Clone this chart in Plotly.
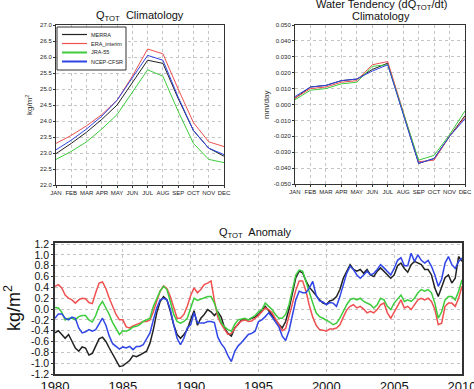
import plotly.graph_objects as go

# ---------------- data ----------------
months = ["JAN", "FEB", "MAR", "APR", "MAY", "JUN", "JUL", "AUG", "SEP", "OCT", "NOV", "DEC"]
series_names = ["MERRA", "ERA_interim", "JRA-55", "NCEP-CFSR"]
series_colors = ["#222222", "#f05050", "#3ccc3c", "#2f45e6"]

clim_merra = [22.98, 23.30, 23.65, 24.05, 24.50, 25.20, 25.90, 25.80, 24.70, 23.70, 23.15, 22.90]
clim_era = [23.30, 23.55, 23.85, 24.20, 24.65, 25.40, 26.25, 26.10, 25.00, 23.95, 23.35, 23.20]
clim_jra = [22.80, 23.05, 23.35, 23.75, 24.20, 24.90, 25.60, 25.40, 24.30, 23.30, 22.80, 22.70]
clim_ncep = [23.10, 23.40, 23.75, 24.15, 24.65, 25.35, 26.05, 25.90, 24.75, 23.70, 23.15, 22.95]

tend_merra = [0.004, 0.011, 0.012, 0.015, 0.016, 0.022, 0.026, -0.005, -0.037, -0.034, -0.020, -0.007]
tend_era = [0.004, 0.010, 0.011, 0.014, 0.015, 0.025, 0.027, -0.005, -0.036, -0.035, -0.020, -0.008]
tend_jra = [0.003, 0.009, 0.010, 0.013, 0.014, 0.024, 0.025, -0.005, -0.035, -0.032, -0.019, -0.004]
tend_ncep = [0.005, 0.011, 0.012, 0.015, 0.016, 0.021, 0.025, -0.006, -0.037, -0.034, -0.020, -0.009]

anom_years = [1980 + 0.25 * i for i in range(121)]
anom_merra = [
    -0.44, -0.40, -0.47, -0.54, -0.47, -0.60, -0.72, -0.78, -0.70, -0.72, -0.85, -0.82,
    -0.68, -0.55, -0.52, -0.60, -0.72, -0.84, -0.96, -1.06, -1.05, -1.00, -0.95, -0.86,
    -0.88, -0.85, -0.81, -0.78, -0.63, -0.38, -0.07, 0.14, 0.23, 0.17, -0.04, -0.29,
    -0.47, -0.54, -0.47, -0.38, -0.20, -0.03, -0.30, -0.17, -0.10, -0.01, -0.05, -0.12,
    -0.05, -0.15, -0.35, -0.45, -0.50, -0.35, -0.28, -0.20, -0.20, -0.20, -0.17, -0.15,
    -0.10, -0.03, 0.05, -0.03, -0.12, -0.20, -0.28, -0.35, -0.23, 0.00, 0.30, 0.58,
    0.70, 0.67, 0.52, 0.40, 0.33, 0.24, 0.17, 0.11, 0.09, 0.15, 0.17, 0.23,
    0.36, 0.57, 0.70, 0.82, 0.73, 0.70, 0.73, 0.66, 0.73, 0.63, 0.60, 0.70,
    0.76, 0.70, 0.63, 0.57, 0.63, 0.80, 0.85, 0.75, 0.68, 0.82, 0.88, 0.85,
    0.82, 0.73, 0.73, 0.63, 0.39, 0.23, 0.39, 0.58, 0.63, 0.48, 0.57, 0.97, 0.88,
]
anom_era = [
    0.42, 0.45, 0.39, 0.26, 0.20, 0.17, 0.11, 0.17, 0.20, 0.19, 0.12, 0.10,
    0.30, 0.48, 0.50, 0.38, 0.20, 0.05, -0.10, -0.20, -0.20, -0.33, -0.35, -0.31,
    -0.29, -0.26, -0.23, -0.23, -0.20, -0.05, 0.15, 0.33, 0.43, 0.38, 0.23, 0.02,
    -0.17, -0.17, -0.10, 0.05, 0.25, 0.39, 0.30, 0.36, 0.45, 0.48, 0.52, 0.15,
    -0.15, -0.28, -0.38, -0.47, -0.45, -0.35, -0.27, -0.22, -0.20, -0.23, -0.22, -0.17,
    -0.12, -0.05, 0.02, -0.01, -0.07, -0.18, -0.30, -0.40, -0.36, -0.15, 0.10, 0.35,
    0.52, 0.52, 0.33, 0.06, -0.15, -0.30, -0.38, -0.39, -0.41, -0.37, -0.37, -0.35,
    -0.29, -0.15, -0.02, 0.05, 0.08, 0.02, 0.05, 0.00, -0.07, -0.04, -0.07, -0.01,
    0.08, 0.11, -0.07, -0.17, -0.05, 0.08, 0.17, 0.02, 0.05, -0.01, 0.08, 0.17,
    0.20, 0.17, 0.20, 0.14, -0.01, -0.29, -0.26, 0.05, 0.11, 0.11, 0.05, 0.20, 0.42,
]
anom_jra = [
    0.03, 0.02, -0.06, -0.20, -0.17, -0.17, -0.20, -0.14, -0.12, -0.12, -0.20, -0.24,
    -0.12, 0.05, 0.14, 0.02, -0.10, -0.25, -0.37, -0.47, -0.40, -0.41, -0.38, -0.33,
    -0.32, -0.29, -0.23, -0.20, -0.17, 0.05, 0.20, 0.33, 0.42, 0.36, 0.14, -0.10,
    -0.23, -0.26, -0.23, -0.17, 0.02, 0.20, 0.16, 0.18, 0.20, 0.23, 0.23, 0.11,
    -0.08, -0.25, -0.33, -0.38, -0.41, -0.28, -0.20, -0.18, -0.17, -0.20, -0.16, -0.12,
    -0.05, -0.01, 0.11, 0.05, -0.01, -0.10, -0.17, -0.17, -0.10, 0.08, 0.39, 0.63,
    0.72, 0.70, 0.51, 0.30, 0.11, -0.07, -0.14, -0.17, -0.20, -0.24, -0.29, -0.26,
    -0.17, -0.05, 0.08, 0.17, 0.20, 0.17, 0.20, 0.14, 0.11, 0.08, 0.02, 0.08,
    0.20, 0.17, 0.05, -0.01, 0.11, 0.19, 0.26, 0.14, 0.17, 0.14, 0.20, 0.30,
    0.36, 0.33, 0.36, 0.30, 0.11, -0.17, -0.05, 0.17, 0.23, 0.23, 0.17, 0.33, 0.54,
]
anom_ncep = [
    -0.17, -0.09, -0.09, -0.17, -0.20, -0.15, -0.17, -0.35, -0.44, -0.42, -0.38, -0.41,
    -0.38, -0.27, -0.17, -0.30, -0.50, -0.64, -0.69, -0.74, -0.70, -0.72, -0.69, -0.75,
    -0.69, -0.69, -0.66, -0.54, -0.44, -0.20, 0.02, 0.17, 0.20, 0.17, -0.01, -0.29,
    -0.54, -0.66, -0.54, -0.35, -0.29, -0.07, -0.25, -0.26, -0.26, -0.23, -0.23, -0.25,
    -0.52, -0.64, -0.72, -0.86, -0.97, -0.78, -0.68, -0.62, -0.54, -0.47, -0.45, -0.41,
    -0.23, -0.20, -0.14, -0.07, -0.15, -0.25, -0.33, -0.50, -0.58, -0.40, -0.10, 0.17,
    0.33, 0.30, 0.30, 0.39, 0.51, 0.25, 0.15, 0.13, 0.08, 0.12, 0.11, 0.05,
    0.23, 0.45, 0.66, 0.79, 0.73, 0.63, 0.57, 0.63, 0.70, 0.63, 0.66, 0.73,
    0.82, 0.76, 0.70, 0.63, 0.75, 0.90, 0.95, 0.80, 0.80, 1.03, 0.88, 1.00,
    0.90, 0.85, 0.90, 0.79, 0.63, 0.42, 0.55, 0.85, 0.97, 0.82, 0.75, 0.88, 0.94,
]

clim_ticks = [22.0 + 0.5 * i for i in range(11)]
tend_ticks = [-0.05 + 0.01 * i for i in range(11)]
anom_ticks = [-1.2 + 0.2 * i for i in range(13)]
year_ticks = [1980, 1985, 1990, 1995, 2000, 2005, 2010]

# ---------------- figure ----------------
W, H = 474, 389
FONT = "Liberation Sans, Arial, sans-serif"


def px(x):
    return x / W


def py(y):
    return 1 - y / H


fig = go.Figure()
clim_all = [clim_merra, clim_era, clim_jra, clim_ncep]
tend_all = [tend_merra, tend_era, tend_jra, tend_ncep]
anom_all = [anom_merra, anom_era, anom_jra, anom_ncep]

for name, col, ys in zip(series_names, series_colors, clim_all):
    fig.add_trace(go.Scatter(x=list(range(12)), y=ys, mode="lines", name=name,
                             line=dict(color=col, width=1), xaxis="x", yaxis="y"))
for name, col, ys in zip(series_names, series_colors, tend_all):
    fig.add_trace(go.Scatter(x=list(range(12)), y=ys, mode="lines", name=name,
                             line=dict(color=col, width=1), xaxis="x2", yaxis="y2"))
for name, col, ys in zip(series_names, series_colors, anom_all):
    fig.add_trace(go.Scatter(x=anom_years, y=ys, mode="lines", name=name,
                             line=dict(color=col, width=1.5), xaxis="x3", yaxis="y3"))

small = dict(family=FONT, size=6, color="#222222")
axcommon = dict(showline=True, linecolor="#333333", linewidth=1, mirror=True,
                showgrid=True, gridcolor="#c4c4c4", griddash="dot", gridwidth=1,
                zeroline=False, ticks="outside", ticklen=2, tickcolor="#333333",
                automargin=False, tickangle=0, ticklabeloverflow="allow")

fig.update_layout(
    width=W, height=H, margin=dict(l=0, r=0, t=0, b=0),
    paper_bgcolor="white", plot_bgcolor="white",
    font=dict(family=FONT, color="#111111"),
    showlegend=False,
    xaxis=dict(domain=[px(56), px(224)], anchor="y", range=[0, 11],
               tickvals=list(range(12)), ticktext=months, tickfont=small, **axcommon),
    yaxis=dict(domain=[py(185), py(25)], anchor="x", range=[22, 27],
               tickvals=clim_ticks, ticktext=[f"{v:.1f}" for v in clim_ticks],
               tickfont=small, **axcommon),
    xaxis2=dict(domain=[px(295), px(465)], anchor="y2", range=[0, 11],
                tickvals=list(range(12)), ticktext=months, tickfont=small, **axcommon),
    yaxis2=dict(domain=[py(184), py(25)], anchor="x2", range=[-0.05, 0.05],
                tickvals=tend_ticks, ticktext=[f"{v:.3f}" for v in tend_ticks],
                tickfont=small, **axcommon),
    xaxis3=dict(domain=[px(55), px(462)], anchor="y3", range=[1980, 2010],
                tickvals=year_ticks, ticktext=[str(v) for v in year_ticks],
                tickfont=dict(family=FONT, size=13, color="#111111"), **axcommon),
    yaxis3=dict(domain=[py(374), py(243)], anchor="x3", range=[-1.2, 1.22],
                tickvals=anom_ticks, ticktext=[f"{v:.1f}" for v in anom_ticks],
                tickfont=dict(family=FONT, size=10.5, color="#111111"), **axcommon),
)
fig.update_layout(xaxis3=dict(linewidth=1.5, ticklen=0), yaxis3=dict(linewidth=1.5))

# legend box (drawn manually to match the compact original)
fig.add_shape(type="rect", xref="paper", yref="paper",
              x0=px(57), x1=px(126), y0=py(70), y1=py(27),
              line=dict(color="#333333", width=1), fillcolor="white", layer="above")
leg_rows = [34.5, 43.5, 52.5, 61.5]
leg_widths = [1.2, 1.2, 2, 2]
for name, col, yy, lw in zip(series_names, series_colors, leg_rows, leg_widths):
    fig.add_shape(type="line", xref="paper", yref="paper",
                  x0=px(62), x1=px(87), y0=py(yy), y1=py(yy),
                  line=dict(color=col, width=lw), layer="above")
    fig.add_annotation(text=name, x=px(89), y=py(yy), xref="paper", yref="paper",
                       showarrow=False, xanchor="left", yanchor="middle",
                       font=dict(size=5.5, color="#222222", family=FONT))

annots = [
    dict(text="Q<sub>TOT</sub>  Climatology", x=px(140), y=py(16), size=11),
    dict(text="Water Tendency (dQ<sub>TOT</sub>/dt)", x=px(381), y=py(5), size=11),
    dict(text="Climatology", x=px(381), y=py(16), size=11),
    dict(text="Q<sub>TOT</sub>  Anomaly", x=px(256), y=py(233), size=11),
]
for a in annots:
    fig.add_annotation(text=a["text"], x=a["x"], y=a["y"], xref="paper", yref="paper",
                       showarrow=False, xanchor="center", yanchor="middle",
                       font=dict(size=a["size"], color="#111111", family=FONT))
fig.add_annotation(text="kg/m<sup>2</sup>", x=px(29), y=py(105), xref="paper", yref="paper",
                   showarrow=False, textangle=-90, xanchor="center", yanchor="middle",
                   font=dict(size=8, color="#333333", family=FONT))
fig.add_annotation(text="mm/day", x=px(266), y=py(105), xref="paper", yref="paper",
                   showarrow=False, textangle=-90, xanchor="center", yanchor="middle",
                   font=dict(size=8, color="#333333", family=FONT))
fig.add_annotation(text="kg/m<sup>2</sup>", x=px(12), y=py(308), xref="paper", yref="paper",
                   showarrow=False, textangle=-90, xanchor="center", yanchor="middle",
                   font=dict(size=18, color="#111111", family=FONT))

fig.write_html("out.html", config={"displayModeBar": False},
               post_script="document.body.style.margin='0';document.body.style.overflow='hidden';")
